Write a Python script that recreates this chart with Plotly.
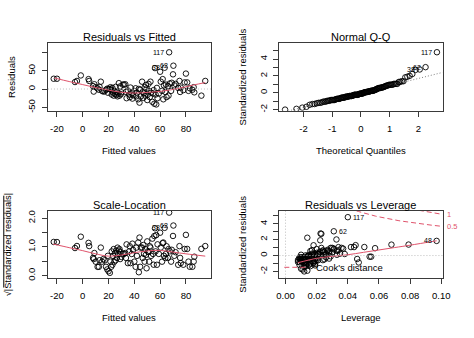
import numpy as np
import plotly.graph_objects as go
from statistics import NormalDist

fitted = [
    -22.5, -20, -6, -4.5, 4.5, 5, 8, 8.5, 9, 10,
    11.5, 12.5, 13, 14, 15, 16, 17, 18, 19, 19.5,
    20, 21, 21.5, 22, 22.5, 23, 23.5, 24, 24.5, 25,
    25.5, 26, 26.5, 27, 27.5, 28, 28.5, 63.5, 29, 29.5,
    30, 31, 32, 33, 33.5, 34, 35, -1.5, 36, 36.5,
    37, 38, 38.5, 39, 40, 41, 41.5, 42, 43, 43.5,
    44, 70.3, 44.5, 45, 46, 46.5, 47, 47.5, 48, 48.5,
    49, 49.5, 50, 50.5, 51, 51.5, 52, 52.5, 53, 54,
    54.5, 55, 55.5, 56, 56.5, 57, 57.5, 58, 59, 60,
    60.5, 61.5, 62, 62.5, 63, 64, 64.5, 65, 66, 66.5,
    67.5, 68.5, 69, 70, 71, 72, 74, 75, 75.5, 76,
    78, 79, 80, 81, 82, 83, 67, 85, 86, 86.5,
    92, 95,
]
resid = [
    28, 28, 19, 22, 27, 22, 8, -7, 13, 5,
    2, -2, 6, 20, -5, -7, -6, -2, 1, -10,
    0.5, -0.2, 5, -2, -15, 3, -10, -18, -5, -13,
    6, -16, -8, -20, -12, 16, -18, 58, 7, -14,
    -9, 12, 12, 13, -8, -25, -4, 37, -15, -22,
    4, -12, -26, -17, -5, 2, -20, -10, -28, 0.3,
    -37, 63.5, -2, -20, 20, -8, -24, -12, 5, -18,
    11, 1.4, -30, -15, 14, -5, -22, 20, -10, -35,
    -12, -3, -40, 57, -15, -42, 3, -25, -12, 47,
    20, -5, 27, -28, 10, -8, 12, -22, 8, -18,
    15, -5, 17, 40, 10, 14, 3, 22, -8, 4,
    -3, 18, 42, 18, -5, 2, 100, -2, 5, -9,
    -18, 22,
]
leverage = [
    0.079, 0.068, 0.0575, 0.0506, 0.045, 0.042, 0.030, 0.012, 0.024, 0.018,
    0.010, 0.015, 0.028, 0.023, 0.011, 0.020, 0.009, 0.014, 0.019, 0.025,
    0.013, 0.017, 0.021, 0.016, 0.010, 0.022, 0.012, 0.018, 0.009, 0.014,
    0.026, 0.011, 0.019, 0.013, 0.008, 0.031, 0.016, 0.0225, 0.020, 0.010,
    0.015, 0.027, 0.033, 0.024, 0.012, 0.009, 0.017, 0.097, 0.011, 0.014,
    0.021, 0.010, 0.019, 0.008, 0.013, 0.025, 0.012, 0.009, 0.016, 0.020,
    0.011, 0.031, 0.014, 0.018, 0.030, 0.010, 0.013, 0.024, 0.017, 0.009,
    0.028, 0.015, 0.012, 0.019, 0.034, 0.011, 0.016, 0.036, 0.013, 0.010,
    0.021, 0.055, 0.014, 0.023, 0.018, 0.012, 0.026, 0.015, 0.020, 0.014,
    0.029, 0.010, 0.018, 0.013, 0.022, 0.011, 0.016, 0.019, 0.024, 0.012,
    0.027, 0.015, 0.020, 0.0223, 0.025, 0.017, 0.021, 0.034, 0.028, 0.038,
    0.054, 0.031, 0.0327, 0.037, 0.026, 0.033, 0.040, 0.029, 0.035, 0.046,
    0.047, 0.044,
]
sigma_hat = 21.2
n_params = 3
cook_levels = [0.5, 1.0]

# smoothers (red lines)
smooth_rf_x = [-22, -10, 0, 10, 20, 30, 40, 51, 61, 73.5, 86, 95]
smooth_rf_y = [30, 20, 12, 4, -3, -9, -11, -9, -6, 1, 11, 17.5]
smooth_sl_x = [-23, -10, 0, 10, 20, 30, 40, 50, 60, 70, 80, 95]
smooth_sl_y = [1.10, 0.97, 0.87, 0.76, 0.68, 0.72, 0.80, 0.86, 0.88, 0.82, 0.76, 0.68]
smooth_lev_x = [0.008, 0.02, 0.03, 0.04, 0.05, 0.06, 0.07, 0.08, 0.097]
smooth_lev_y = [-0.9, -0.35, -0.1, 0.1, 0.4, 0.7, 1.0, 1.3, 1.85]

# ticks
fit_ticks = [-20, 0, 20, 40, 60, 80]
res_ticks = [-50, 0, 50, 100]
res_text = ["-50", "0", "50", ""]
qx_ticks = [-2, -1, 0, 1, 2]
sr_ticks = [-2, -1, 0, 1, 2, 3, 4, 5]
sr_text = ["-2", "", "0", "", "2", "", "4", ""]
sl_ticks = [0.0, 0.5, 1.0, 1.5, 2.0]
sl_text = ["0.0", "", "1.0", "", "2.0"]
lev_ticks = [0.0, 0.02, 0.04, 0.06, 0.08, 0.10]
lev_text = ["0.00", "0.02", "0.04", "0.06", "0.08", "0.10"]

titles = ["Residuals vs Fitted", "Normal Q-Q", "Scale-Location", "Residuals vs Leverage"]
xtitles = ["Fitted values", "Theoretical Quantiles", "Fitted values", "Leverage"]
ytitles = ["Residuals", "Standardized residuals", "√|Standardized residuals|", "Standardized residuals"]

# ---------------- derived quantities (as plot.lm computes them) ----------------
f = np.array(fitted, float)
r = np.array(resid, float)
h = np.array(leverage, float)
n = len(r)
names = [str(i + 1) for i in range(n)]
std = r / (sigma_hat * np.sqrt(1 - h))
sl = np.sqrt(np.abs(std))
nd = NormalDist()
order = np.argsort(std)
theo = np.array([nd.inv_cdf((i + 0.5) / n) for i in range(n)])
samp = std[order]
q1, q3 = np.percentile(std, [25, 75])
z1, z3 = nd.inv_cdf(0.25), nd.inv_cdf(0.75)
qq_slope = (q3 - q1) / (z3 - z1)
qq_int = q1 - qq_slope * z1
cook = std ** 2 * h / (n_params * (1 - h))

# ---------------- layout geometry ----------------
W, H = 474, 338
FONT = "Liberation Sans, Arial, Helvetica, sans-serif"
RED = "#DF536B"
BOX = "#3a3a3a"
boxes = {1: (46, 213, 43, 111), 2: (283, 450, 43, 111),
         3: (46, 213, 212.5, 280), 4: (283, 450, 212.5, 280)}
ranges = {
    1: ([-27, 99.5], [-59, 124]),
    2: ([-2.84, 2.84], [-2.12, 5.85]),
    3: ([-27, 99.5], [-0.07, 2.25]),
    4: ([-0.0039, 0.1008], [-2.78, 5.59]),
}
xt = {1: (fit_ticks, [str(v) for v in fit_ticks]), 2: (qx_ticks, [str(v) for v in qx_ticks]),
      3: (fit_ticks, [str(v) for v in fit_ticks]), 4: (lev_ticks, lev_text)}
yt = {1: (res_ticks, res_text), 2: (sr_ticks, sr_text), 3: (sl_ticks, sl_text), 4: (sr_ticks, sr_text)}


def px(x):
    return x / W


def py(y):
    return 1 - y / H


fig = go.Figure()
layout = dict(width=W, height=H, margin=dict(l=0, r=0, t=0, b=0),
              paper_bgcolor="white", plot_bgcolor="white", showlegend=False,
              font=dict(family=FONT, color="black"))
annotations = []
shapes = []

for k in range(1, 5):
    l, rr, t, b = boxes[k]
    sx = "" if k == 1 else str(k)
    common = dict(showline=True, mirror=True, linecolor=BOX, linewidth=1,
                  ticks="outside", ticklen=5, tickwidth=1, tickcolor=BOX,
                  showgrid=False, zeroline=False, fixedrange=True,
                  tickfont=dict(family=FONT, size=9.5, color="black"))
    layout["xaxis" + sx] = dict(domain=[px(l), px(rr)], range=ranges[k][0], anchor="y" + sx,
                                tickmode="array", tickvals=xt[k][0], ticktext=xt[k][1],
                                ticklabelstandoff=4, **common)
    layout["yaxis" + sx] = dict(domain=[py(b), py(t)], range=ranges[k][1], anchor="x" + sx,
                                tickmode="array", tickvals=yt[k][0], ticktext=yt[k][1],
                                tickangle=-90, ticklabelstandoff=3, **common)
    cx = (l + rr) / 2
    cy = (t + b) / 2
    annotations.append(dict(x=px(cx), y=py(t - 6.5), xref="paper", yref="paper", text=titles[k - 1],
                            showarrow=False, xanchor="center", yanchor="middle",
                            font=dict(size=11, family=FONT, color="black")))
    annotations.append(dict(x=px(cx), y=py(b + 40.7), xref="paper", yref="paper", text=xtitles[k - 1],
                            showarrow=False, xanchor="center", yanchor="middle",
                            font=dict(size=9.5, family=FONT, color="black")))
    ylx = l - 38 if k != 3 else l - 41
    annotations.append(dict(x=px(ylx), y=py(cy), xref="paper", yref="paper", text=ytitles[k - 1],
                            showarrow=False, xanchor="center", yanchor="middle", textangle=-90,
                            font=dict(size=9.5 if k != 3 else 9.2, family=FONT, color="black")))

# overline of the square-root sign in the Scale-Location y label
shapes.append(dict(type="line", xref="paper", yref="paper", x0=px(0.8), x1=px(0.8),
                   y0=py(290), y1=py(197), line=dict(color="black", width=1)))

MK = dict(symbol="circle-open", size=5.5, color="black", line=dict(width=0.9, color="black"))


def label_points(xs, ys, idx, xref, yref, pos_left, lab):
    for i in idx:
        left = pos_left(xs[i])
        annotations.append(dict(x=xs[i], y=ys[i], xref=xref, yref=yref, text=lab[i],
                                showarrow=False, xanchor="right" if left else "left",
                                yanchor="middle", xshift=-3 if left else 3,
                                font=dict(size=7, family=FONT, color="black")))


# ---- panel 1: residuals vs fitted
shapes.append(dict(type="line", xref="x domain", yref="y", x0=0, x1=1, y0=0, y1=0,
                   line=dict(color="#BEBEBE", width=1, dash="1px,2px")))
fig.add_trace(go.Scatter(x=f, y=r, mode="markers", marker=MK, xaxis="x", yaxis="y"))
fig.add_trace(go.Scatter(x=smooth_rf_x, y=smooth_rf_y, mode="lines", line=dict(color=RED, width=1),
                         line_shape="spline", xaxis="x", yaxis="y"))
mid_f = (f.min() + f.max()) / 2
top_r = np.argsort(-np.abs(r))[:3]
label_points(f, r, top_r, "x", "y", lambda v: v > mid_f, names)

# ---- panel 2: normal Q-Q
xr = ranges[2][0]
fig.add_trace(go.Scatter(x=xr, y=[qq_int + qq_slope * xr[0], qq_int + qq_slope * xr[1]], mode="lines",
                         line=dict(color="#7F7F7F", width=1, dash="1px,2px"), xaxis="x2", yaxis="y2"))
fig.add_trace(go.Scatter(x=theo, y=samp, mode="markers", marker=MK, xaxis="x2", yaxis="y2"))
qq_names = [names[j] for j in order]
top_q = np.argsort(-np.abs(samp))[:3]
label_points(theo, samp, top_q, "x2", "y2", lambda v: v > 0, qq_names)

# ---- panel 3: scale-location
fig.add_trace(go.Scatter(x=f, y=sl, mode="markers", marker=MK, xaxis="x3", yaxis="y3"))
fig.add_trace(go.Scatter(x=smooth_sl_x, y=smooth_sl_y, mode="lines", line=dict(color=RED, width=1),
                         line_shape="spline", xaxis="x3", yaxis="y3"))
top_s = np.argsort(-np.abs(std))[:3]
label_points(f, sl, top_s, "x3", "y3", lambda v: v > mid_f, names)

# ---- panel 4: residuals vs leverage
shapes.append(dict(type="line", xref="x4 domain", yref="y4", x0=0, x1=1, y0=0, y1=0,
                   line=dict(color="#BEBEBE", width=1, dash="1px,2px")))
shapes.append(dict(type="line", xref="x4", yref="y4 domain", x0=0, x1=0, y0=0, y1=1,
                   line=dict(color="#BEBEBE", width=1, dash="1px,2px")))
xmax = ranges[4][0][1]
hh = np.linspace(0.0008, xmax, 101)
for cl in cook_levels:
    cy_ = np.sqrt(cl * n_params * (1 - hh) / hh)
    for sgn in (1, -1):
        fig.add_trace(go.Scatter(x=hh, y=sgn * cy_, mode="lines", line=dict(color=RED, width=1, dash="5px,3px"),
                                 xaxis="x4", yaxis="y4"))
    yl = np.sqrt(cl * n_params * (1 - xmax) / xmax)
    if yl < ranges[4][1][1]:
        annotations.append(dict(x=1, y=yl, xref="x4 domain", yref="y4", text=f"{cl:g}", showarrow=False,
                                xanchor="left", yanchor="middle", xshift=2,
                                font=dict(size=7.5, family=FONT, color=RED)))
fig.add_trace(go.Scatter(x=h, y=std, mode="markers", marker=MK, xaxis="x4", yaxis="y4"))
fig.add_trace(go.Scatter(x=smooth_lev_x, y=smooth_lev_y, mode="lines", line=dict(color=RED, width=1),
                         line_shape="spline", xaxis="x4", yaxis="y4"))
mid_h = (h.min() + h.max()) / 2
top_c = np.argsort(-cook)[:3]
label_points(h, std, top_c, "x4", "y4", lambda v: v > mid_h, names)
# legend "Cook's distance"
shapes.append(dict(type="line", xref="paper", yref="paper", x0=px(288), x1=px(310), y0=py(269.5), y1=py(269.5),
                   line=dict(color=RED, width=1, dash="5px,3px")))
annotations.append(dict(x=px(318), y=py(269.7), xref="paper", yref="paper", text="Cook's distance",
                        showarrow=False, xanchor="left", yanchor="middle",
                        font=dict(size=9.5, family=FONT, color="black")))

layout["annotations"] = annotations
layout["shapes"] = shapes
fig.update_layout(**layout)
fig.write_html("out.html")
